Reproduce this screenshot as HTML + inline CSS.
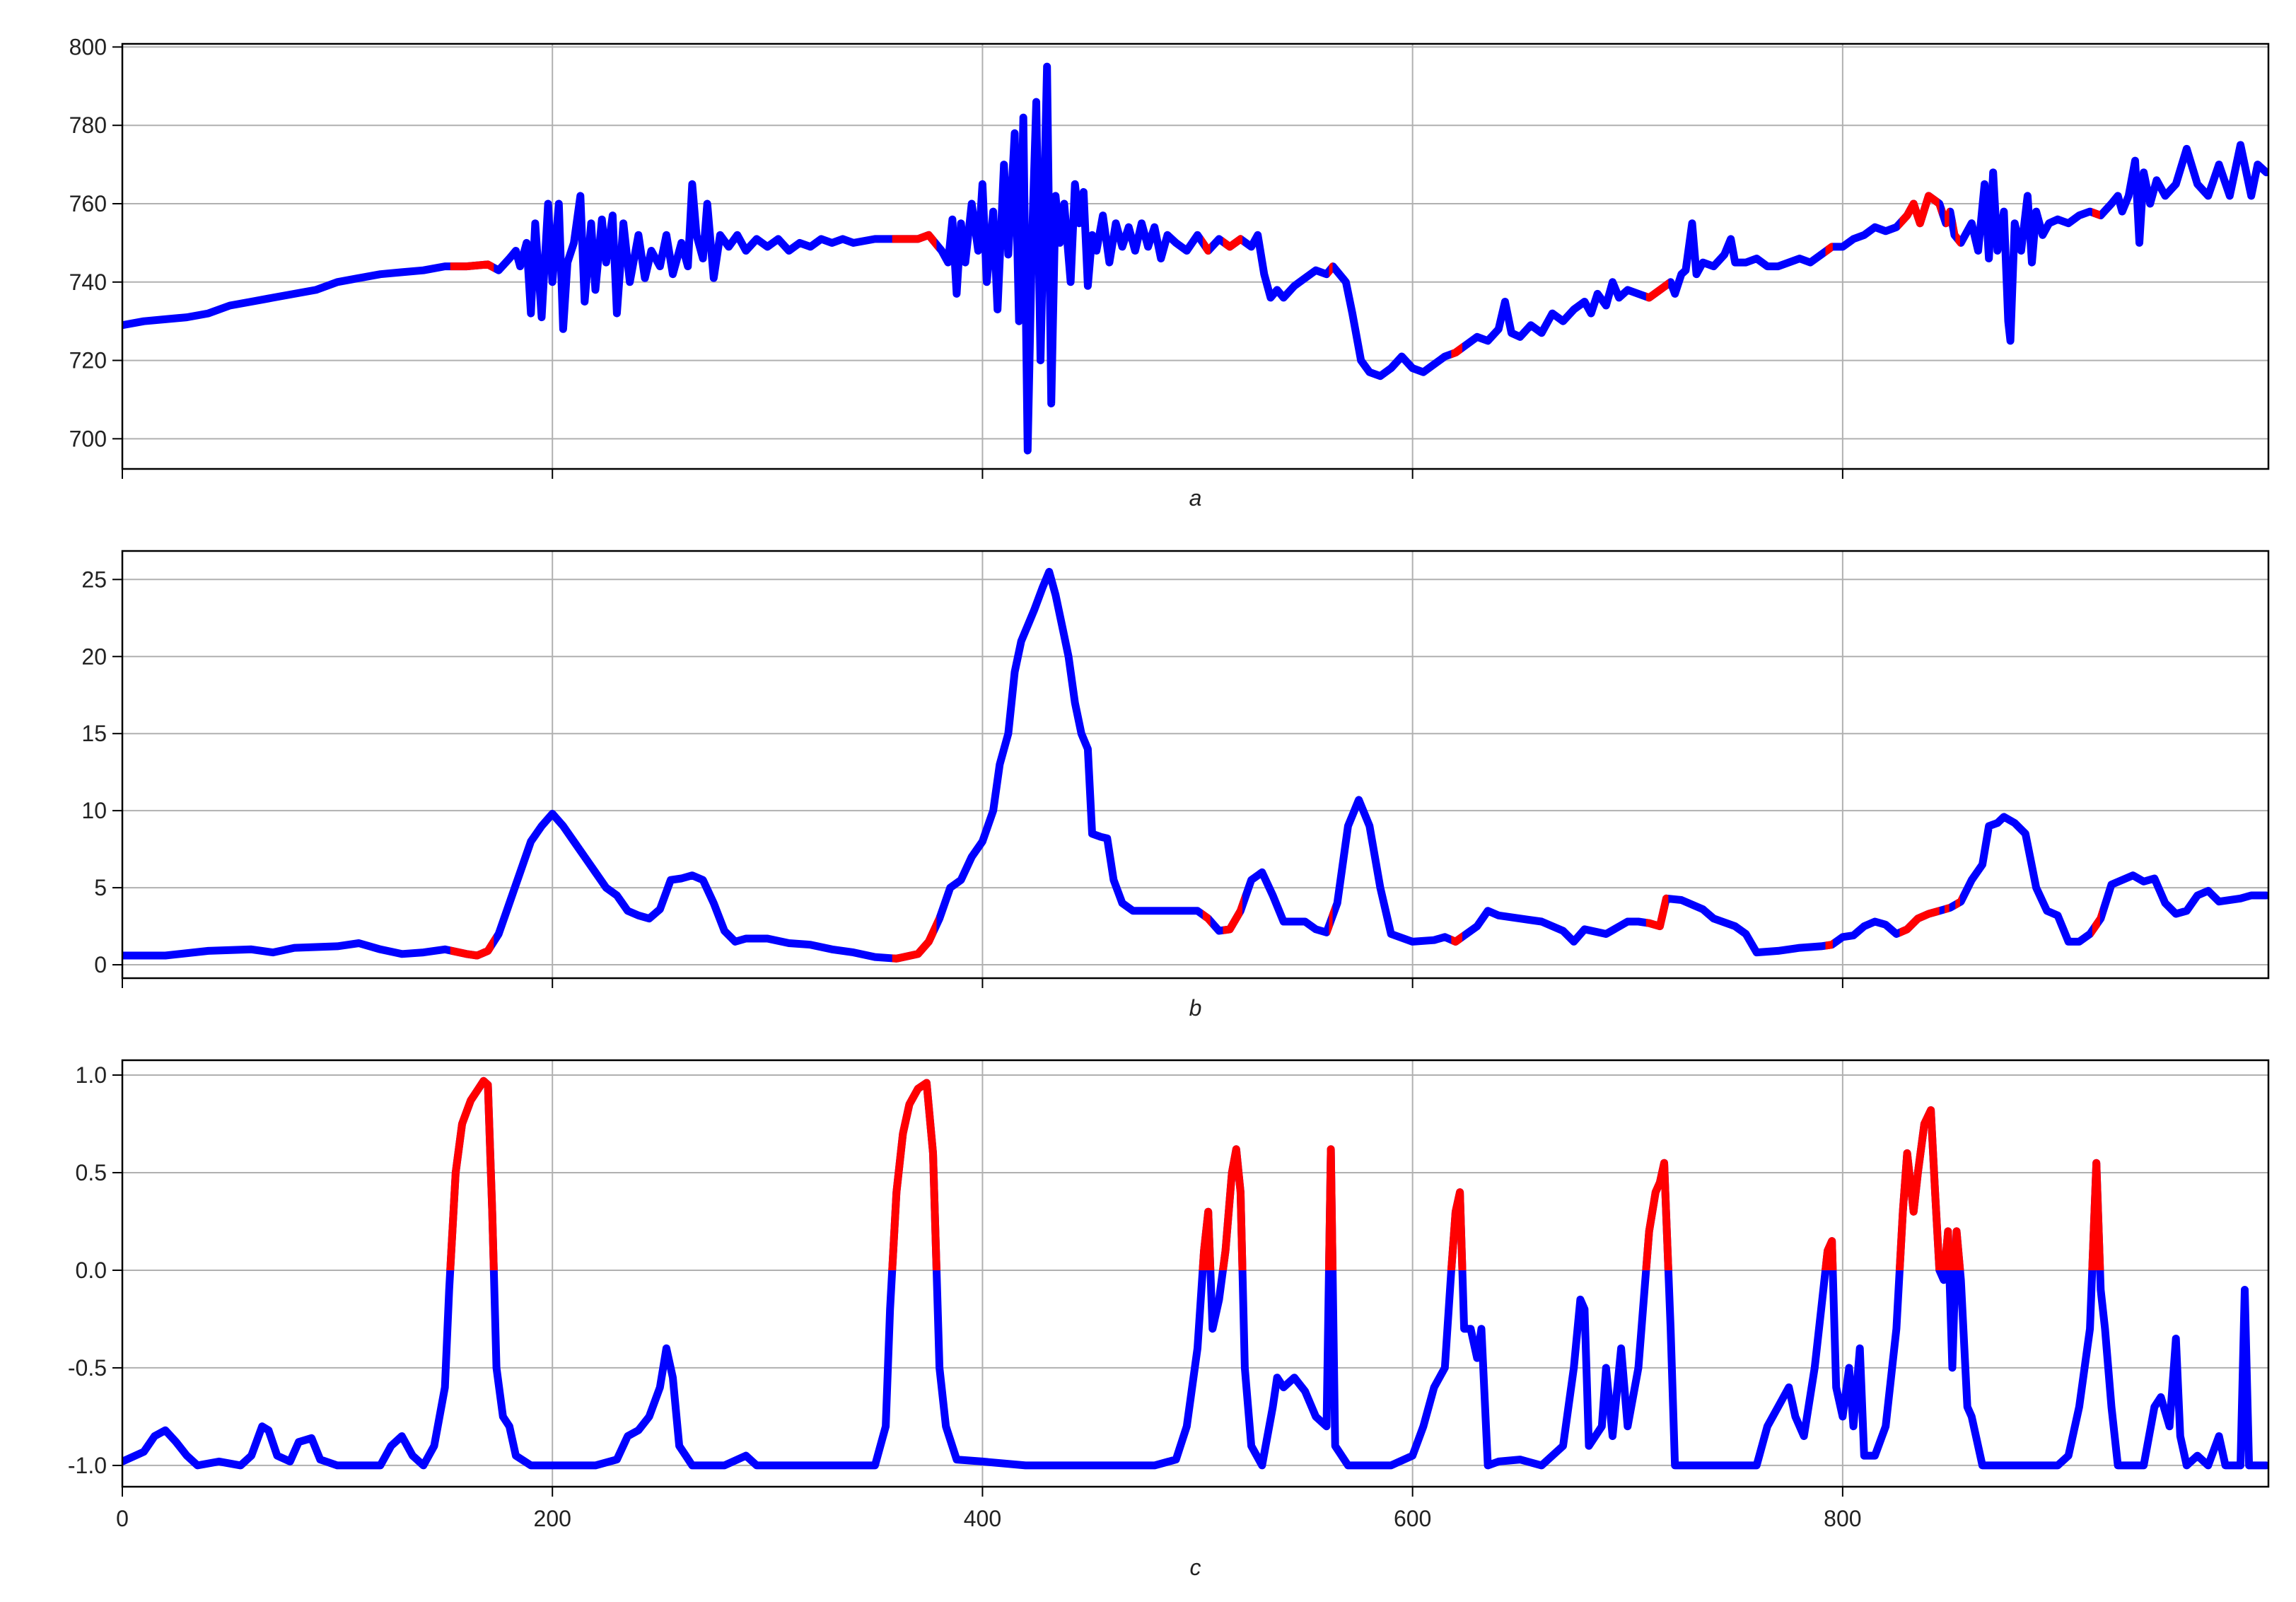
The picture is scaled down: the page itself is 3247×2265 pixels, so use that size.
<!DOCTYPE html>
<html><head><meta charset="utf-8">
<style>
html,body{margin:0;padding:0;background:#fff;}
svg{display:block;}
text{font-family:"Liberation Sans","DejaVu Sans",sans-serif;fill:#222;}
</style></head>
<body>
<svg id="chart" width="3247" height="2265" viewBox="0 0 3247 2265" xmlns="http://www.w3.org/2000/svg"></svg>
<script>
const xTicks = [0, 200, 400, 600, 800];
const aTicks = [700, 720, 740, 760, 780, 800];
const bTicks = [0, 5, 10, 15, 20, 25];
const cTicks = [-1.0, -0.5, 0.0, 0.5, 1.0];
const cTickLabels = ["-1.0", "-0.5", "0.0", "0.5", "1.0"];
const panelLabels = ["a", "b", "c"];

const aX = [0,10,20,30,40,50,60,70,80,90,100,110,120,130,140,150,160,170,175,180,183,185,188,190,192,195,198,200,203,205,207,210,213,215,218,220,223,225,228,230,233,236,240,243,246,250,253,256,260,263,265,267,270,272,275,278,282,286,290,295,300,305,310,315,320,325,330,335,340,350,360,370,375,378,381,384,386,388,390,392,395,398,400,402,405,407,410,412,415,417,419,421,423,425,427,430,432,434,436,438,441,443,445,447,449,451,453,456,459,462,465,468,471,474,477,480,483,486,490,495,500,505,510,515,520,525,528,531,534,537,540,545,550,555,560,563,566,569,572,576,580,585,590,595,600,605,610,615,620,625,630,635,640,643,646,650,655,660,665,670,675,680,683,686,690,693,696,700,705,710,715,720,722,725,727,730,732,735,740,745,748,750,755,760,765,770,775,780,785,790,795,800,805,810,815,820,825,830,833,836,840,845,848,850,852,855,860,863,866,868,870,872,875,877,878,880,883,886,888,890,893,896,900,905,910,915,920,925,928,930,933,936,938,940,943,946,950,955,960,965,970,975,980,985,990,993,997];
const aY = [729,730,730.5,731,732,734,735,736,737,738,740,741,742,742.5,743,744,744,744.5,743,746,748,744,750,732,755,731,760,740,760,728,745,750,762,735,755,738,756,745,757,732,755,740,752,741,748,744,752,742,750,744,765,752,746,760,741,752,749,752,748,751,749,751,748,750,749,751,750,751,750,751,751,751,752,750,748,745,756,737,755,745,760,748,765,740,758,733,770,747,778,730,782,697,750,786,720,795,709,762,750,760,740,765,755,763,739,752,748,757,745,755,749,754,748,755,749,754,746,752,750,748,752,748,751,749,751,749,752,742,736,738,736,739,741,743,742,744,742,740,732,720,717,716,718,721,718,717,719,721,722,724,726,725,728,735,727,726,729,727,732,730,733,735,732,737,734,740,736,738,737,736,738,740,737,742,743,755,742,745,744,747,751,745,745,746,744,744,745,746,745,747,749,749,751,752,754,753,754,757,760,755,762,760,755,758,752,750,755,748,765,746,768,748,758,730,725,755,748,762,745,758,752,755,756,755,757,758,757,760,762,758,762,771,750,768,760,766,762,765,774,765,762,770,762,775,762,770,768];

const bX = [0,20,40,60,70,80,100,110,120,130,140,150,160,165,170,175,180,185,190,195,200,205,210,215,220,225,230,235,240,245,250,255,260,265,270,275,280,285,290,300,310,320,330,340,350,360,370,375,380,385,390,395,400,405,408,412,415,418,421,424,428,431,434,437,440,443,446,449,451,455,458,461,465,470,480,490,500,505,510,515,520,525,530,535,540,545,550,555,560,565,570,575,580,585,590,600,610,615,620,625,630,635,640,650,660,670,675,680,690,700,705,710,715,718,725,735,740,750,755,760,770,780,790,795,800,805,810,815,820,825,830,835,840,845,850,855,860,865,868,872,875,880,885,890,895,900,905,910,915,920,925,930,935,940,945,950,955,960,965,970,975,985,990,997];
const bY = [0.6,0.6,0.9,1.0,0.8,1.1,1.2,1.4,1.0,0.7,0.8,1.0,0.7,0.6,0.9,2.0,4,6,8,9,9.8,9,8,7,6,5,4.5,3.5,3.2,3.0,3.6,5.5,5.6,5.8,5.5,4.0,2.2,1.5,1.7,1.7,1.4,1.3,1.0,0.8,0.5,0.4,0.7,1.5,3,5,5.5,7,8,10,13,15,19,21,22,23,24.5,25.5,24,22,20,17,15,14,8.5,8.3,8.2,5.5,4,3.5,3.5,3.5,3.5,3.0,2.2,2.3,3.5,5.5,6.0,4.5,2.8,2.8,2.8,2.3,2.1,4,9,10.7,9,5,2,1.5,1.6,1.8,1.5,2.0,2.5,3.5,3.2,3.0,2.8,2.2,1.5,2.3,2.0,2.8,2.8,2.7,2.5,4.3,4.2,3.6,3.0,2.5,2.0,0.8,0.9,1.1,1.2,1.3,1.8,1.9,2.5,2.8,2.6,2.0,2.3,3.0,3.3,3.5,3.7,4.1,5.5,6.5,9,9.2,9.6,9.2,8.5,5,3.5,3.2,1.5,1.5,2.0,3.0,5.2,5.5,5.8,5.4,5.6,4,3.3,3.5,4.5,4.8,4.1,4.3,4.5,4.5];

const cX = [0,10,15,20,25,30,35,45,55,60,65,68,72,78,82,88,92,100,110,120,125,130,135,140,145,150,152,155,158,162,165,168,170,172,174,177,180,183,190,200,210,220,230,235,240,245,250,253,256,259,262,265,280,290,295,310,350,355,357,360,363,366,370,374,377,380,383,388,400,420,480,490,495,500,503,505,507,510,513,516,518,520,522,525,530,535,537,540,545,550,555,560,562,564,570,590,600,605,610,615,618,620,622,624,627,630,632,635,640,650,660,670,675,678,680,682,688,690,693,697,700,705,710,713,715,717,720,722,740,760,765,770,775,778,782,787,790,793,795,797,800,803,805,808,810,815,820,825,828,830,833,835,838,841,843,845,847,849,851,853,855,858,860,865,880,900,905,910,915,918,920,922,925,928,940,945,948,952,955,957,960,965,970,975,978,985,987,989,997];
const cY = [-0.98,-0.93,-0.85,-0.82,-0.88,-0.95,-1,-0.98,-1,-0.95,-0.8,-0.82,-0.95,-0.98,-0.88,-0.86,-0.97,-1,-1,-1,-0.9,-0.85,-0.95,-1,-0.9,-0.6,-0.1,0.5,0.75,0.87,0.92,0.97,0.95,0.3,-0.5,-0.75,-0.8,-0.95,-1,-1,-1,-1,-0.97,-0.85,-0.82,-0.75,-0.6,-0.4,-0.55,-0.9,-0.95,-1,-1,-0.95,-1,-1,-1,-0.8,-0.2,0.4,0.7,0.85,0.93,0.96,0.6,-0.5,-0.8,-0.97,-0.98,-1,-1,-0.97,-0.8,-0.4,0.1,0.3,-0.3,-0.15,0.1,0.5,0.62,0.4,-0.5,-0.9,-1,-0.7,-0.55,-0.6,-0.55,-0.62,-0.75,-0.8,0.62,-0.9,-1,-1,-0.95,-0.8,-0.6,-0.5,0.0,0.3,0.4,-0.3,-0.3,-0.45,-0.3,-1,-0.98,-0.97,-1,-0.9,-0.5,-0.15,-0.2,-0.9,-0.8,-0.5,-0.85,-0.4,-0.8,-0.5,0.2,0.4,0.45,0.55,-0.3,-1,-1,-1,-0.8,-0.7,-0.6,-0.75,-0.85,-0.5,-0.2,0.1,0.15,-0.6,-0.75,-0.5,-0.8,-0.4,-0.95,-0.95,-0.8,-0.3,0.3,0.6,0.3,0.5,0.75,0.82,0.4,0.0,-0.05,0.2,-0.5,0.2,-0.05,-0.7,-0.75,-1,-1,-1,-0.95,-0.7,-0.3,0.55,-0.1,-0.3,-0.7,-1,-1,-0.7,-0.65,-0.8,-0.35,-0.85,-1,-0.95,-1,-0.85,-1,-1,-0.1,-1,-1];

const NS = "http://www.w3.org/2000/svg";
const svg = document.getElementById('chart');
const L = 173, R = 3208, XMAX = 998;
const xs = v => L + (v / XMAX) * (R - L);
function mk(tag, attrs, parent) {
  const e = document.createElementNS(NS, tag);
  for (const k in attrs) e.setAttribute(k, attrs[k]);
  (parent || svg).appendChild(e);
  return e;
}
const redIntervals = [];
(function(){
  let start = null;
  for (let i = 0; i < cX.length; i++) {
    if (i > 0) {
      const y0 = cY[i-1], y1 = cY[i];
      if ((y0 > 0) !== (y1 > 0)) {
        const t = (0 - y0) / (y1 - y0);
        const xc = cX[i-1] + t * (cX[i] - cX[i-1]);
        if (y1 > 0) start = xc; else { redIntervals.push([start, xc]); start = null; }
      }
    } else if (cY[0] > 0) start = cX[0];
  }
  if (start !== null) redIntervals.push([start, cX[cX.length-1]]);
})();

const panels = [
  {top: 62, bot: 663, ymin: 692.3, ymax: 800.8, ticks: aTicks, labels: aTicks.map(String), X: aX, Y: aY, lab: 704, name: 'a'},
  {top: 779, bot: 1383, ymin: -0.87, ymax: 26.85, ticks: bTicks, labels: bTicks.map(String), X: bX, Y: bY, lab: 1425, name: 'b'},
  {top: 1499, bot: 2102, ymin: -1.109, ymax: 1.076, ticks: cTicks, labels: cTickLabels, X: cX, Y: cY, lab: 2216, name: 'c'}
];
panels.forEach((p, pi) => {
  const ys = v => p.bot - (v - p.ymin) / (p.ymax - p.ymin) * (p.bot - p.top);
  const g = mk('g', {});
  
  
  const cid = 'clip' + pi;
  const cp = mk('clipPath', {id: cid}, g);
  mk('rect', {x: L, y: p.top, width: R - L, height: p.bot - p.top}, cp);
  xTicks.forEach(t => {
    const l = mk('line', {x1: xs(t), x2: xs(t), y1: p.top, y2: p.bot, stroke: '#b0b0b0', 'stroke-width': 2}, g);
    
    
    const tk = mk('line', {x1: xs(t), x2: xs(t), y1: p.bot, y2: p.bot + 14, stroke: '#000', 'stroke-width': 2}, g);
    
    
    if (pi === 2) {
      const tx = mk('text', {x: xs(t), y: p.bot + 56, 'font-size': 32, 'text-anchor': 'middle'}, g);
      tx.textContent = String(t);
      
      
    }
  });
  p.ticks.forEach((t, i) => {
    const l = mk('line', {x1: L, x2: R, y1: ys(t), y2: ys(t), stroke: '#b0b0b0', 'stroke-width': 2}, g);
    
    
    const tk = mk('line', {x1: L - 14, x2: L, y1: ys(t), y2: ys(t), stroke: '#000', 'stroke-width': 2}, g);
    
    
    const tx = mk('text', {x: L - 22, y: ys(t) + 11, 'font-size': 32, 'text-anchor': 'end'}, g);
    tx.textContent = p.labels[i];
    
    
  });
  const pts = p.X.map((x, i) => xs(x).toFixed(1) + ',' + ys(p.Y[i]).toFixed(1)).join(' ');
  const blue = mk('polyline', {points: pts, fill: 'none', stroke: '#0000ff', 'stroke-width': 11, 'stroke-linejoin': 'round', 'stroke-linecap': 'round', 'clip-path': 'url(#' + cid + ')'}, g);
  
  
  const rid = 'red' + pi;
  const rc = mk('clipPath', {id: rid}, g);
  redIntervals.forEach(iv => {
    if (pi === 2) mk('rect', {x: xs(iv[0]) - 7, y: p.top, width: xs(iv[1]) - xs(iv[0]) + 14, height: ys(0) - p.top}, rc);
    else mk('rect', {x: xs(iv[0]), y: p.top, width: xs(iv[1]) - xs(iv[0]), height: p.bot - p.top}, rc);
  });
  const red = mk('polyline', {points: pts, fill: 'none', stroke: '#ff0000', 'stroke-width': 11, 'stroke-linejoin': 'round', 'stroke-linecap': 'round', 'clip-path': 'url(#' + rid + ')'}, g);
  
  
  const fr = mk('rect', {x: L, y: p.top, width: R - L, height: p.bot - p.top, fill: 'none', stroke: '#000', 'stroke-width': 2.5}, g);
  
  
  const lb = mk('text', {x: (L + R) / 2, y: p.lab + 11, 'font-size': 32, 'font-style': 'italic', 'text-anchor': 'middle'}, g);
  lb.textContent = panelLabels[pi];
  
  
});
</script>
</body></html>
